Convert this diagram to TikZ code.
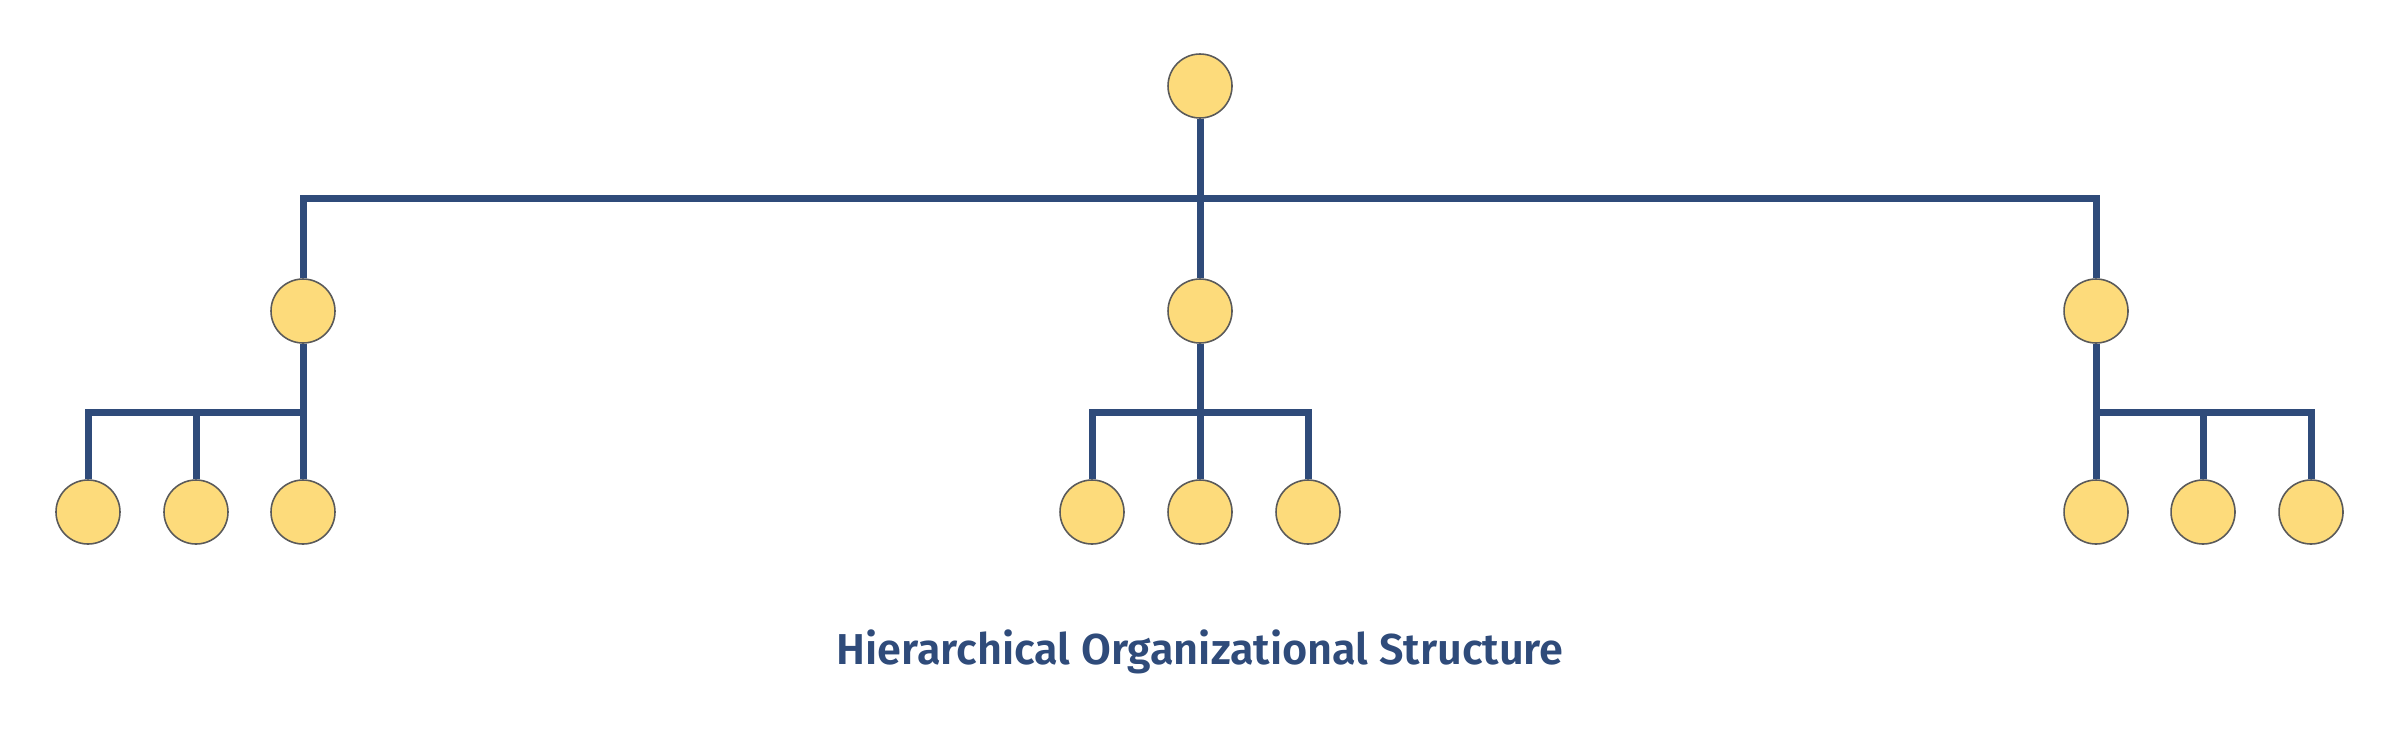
\documentclass[tikz,border=0pt]{standalone}
\usepackage{fontspec}
\setsansfont{Fira Sans}[BoldFont={Fira Sans SemiBold}]
\usetikzlibrary{calc}
\usetikzlibrary{positioning}
\usetikzlibrary{backgrounds}
\definecolor{orgblue}{HTML}{2F4B7A}
\definecolor{orgyellow}{HTML}{FDDB7B}
\definecolor{orgrim}{HTML}{5A5A5A}
\tikzset{
	member/.style={
		circle,
		fill=orgyellow,
		draw=orgrim, line width=0.45pt,
		minimum size=0.64cm,
		inner sep=0pt},
	branch/.style={draw=orgblue, line width=0.07cm},
	caption/.style={
		text=orgblue,
		font=\sffamily\bfseries\fontsize{12.3}{15}\selectfont},
}

\begin{document}
\begin{tikzpicture}
	\useasboundingbox (0,0) rectangle (24,7.32);
	% top and middle level
	\node[member] (head) at (12,6.46) {};
	\node[member] (deptA) at (3.03,4.21) {};
	\node[member] (deptB) at (12,4.21) {};
	\node[member] (deptC) at (20.96,4.21) {};
	% bottom level
	\foreach \i/\x in {1/0.88, 2/1.96, 3/3.03}
		\node[member] (teamA\i) at (\x,2.20) {};
	\foreach \i/\x in {1/10.92, 2/12, 3/13.08}
		\node[member] (teamB\i) at (\x,2.20) {};
	\foreach \i/\x in {1/20.96, 2/22.03, 3/23.11}
		\node[member] (teamC\i) at (\x,2.20) {};
	\coordinate (hub) at (12,5.34);
	\coordinate (hubA) at (3.03,3.20);
	\coordinate (hubB) at (12,3.20);
	\coordinate (hubC) at (20.96,3.20);
	\begin{pgfonlayer}{background}
		\draw[branch] (head) -- (deptB);
		\draw[branch] (deptA) |- (hub) -| (deptC);
		% left group
		\draw[branch] (deptA) -- (teamA3);
		\draw[branch] (teamA1) |- (hubA);
		\draw[branch] (teamA2) -- (teamA2 |- hubA);
		% centre group
		\draw[branch] (deptB) -- (teamB2);
		\draw[branch] (teamB1) |- (hubB) -| (teamB3);
		% right group
		\draw[branch] (deptC) -- (teamC1);
		\draw[branch] (hubC) -| (teamC3);
		\draw[branch] (teamC2) -- (teamC2 |- hubC);
	\end{pgfonlayer}
	\node[caption] (title) at (12,0.80) {Hierarchical Organizational Structure};
\end{tikzpicture}
\end{document}
